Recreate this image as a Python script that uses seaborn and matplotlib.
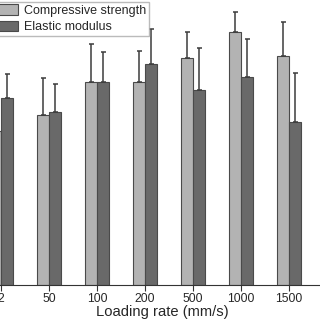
import numpy as np
import pandas as pd
import matplotlib
matplotlib.use("Agg")
import matplotlib.pyplot as plt
import seaborn as sns

rates = ["2", "50", "100", "200", "500", "1000", "1500"]
strength = [154, 170, 203, 203, 227, 253, 229]
strength_err = [30, 37, 38, 31, 26, 20, 34]
modulus = [187, 173, 203, 221, 195, 208, 163]
modulus_err = [24, 28, 30, 35, 42, 38, 49]
labels = ["Compressive strength", "Elastic modulus"]
colors = ["#b3b3b3", "#696969"]

df = pd.DataFrame({
    "rate": rates * 2,
    "property": [labels[0]] * len(rates) + [labels[1]] * len(rates),
    "value": strength + modulus,
})


def main():
    sns.set_style("white")
    plt.rcParams["font.family"] = ["Liberation Sans", "DejaVu Sans"]

    fig = plt.figure(figsize=(3.2, 3.2), dpi=100)
    # axes runs past the left and top edges, like the cropped original
    ax = fig.add_axes([-0.0869, 0.109375, 1.095, 0.9375])

    sns.barplot(data=df, x="rate", y="value", hue="property", order=rates,
                hue_order=labels, palette=colors, width=0.52, errorbar=None,
                edgecolor="#4a4a4a", linewidth=0.8, saturation=1, ax=ax)

    # one-sided error bars on top of each bar
    for cont, errs in zip(ax.containers, [strength_err, modulus_err]):
        xs = [b.get_x() + b.get_width() / 2 for b in cont]
        ys = [b.get_height() for b in cont]
        ax.errorbar(xs, ys, yerr=[np.zeros(len(errs)), errs], fmt="none",
                    ecolor="#3c3c3c", elinewidth=1.1, capsize=1.8, capthick=1.1)

    ax.set_xlim(-0.6, 6.7)
    ax.set_ylim(0, 300)
    ax.set_yticks([])
    ax.set_ylabel("")
    ax.set_xlabel("Loading rate (mm/s)", fontsize=10.6)
    ax.xaxis.set_label_coords(0.5417, -0.067)
    ax.tick_params(axis="x", labelsize=8.7, length=4, width=0.8, direction="out",
                   bottom=True, pad=1.5, color="#333333")
    for side in ["top", "right", "left"]:
        ax.spines[side].set_visible(False)
    ax.spines["bottom"].set_color("#333333")
    ax.spines["bottom"].set_linewidth(0.8)

    ax.legend(loc="lower right", bbox_to_anchor=(0.5046, 0.83), fontsize=9,
              frameon=True, fancybox=False, edgecolor="#aaaaaa",
              borderpad=0.2, handletextpad=0.5, labelspacing=0.35,
              handleheight=0.9, borderaxespad=0)

    fig.savefig("out.png", dpi=100)


if __name__ == '__main__':
    main()
